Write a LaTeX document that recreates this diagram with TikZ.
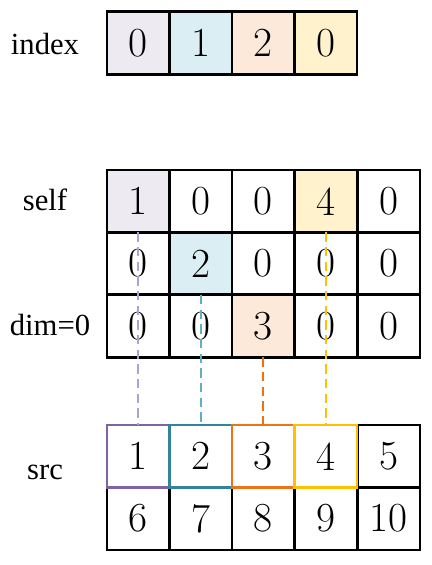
\documentclass[tikz,border=0pt]{standalone}
\usepackage{fontspec}
\newfontfamily\labelfont{Liberation Serif}
\usetikzlibrary{positioning}

\definecolor{purpleFill}{HTML}{EDEAF2}
\definecolor{tealFill}{HTML}{DAEEF3}
\definecolor{orangeFill}{HTML}{FDE9D9}
\definecolor{goldFill}{HTML}{FFF2CC}
\definecolor{purpleEdge}{HTML}{8064A2}
\definecolor{tealEdge}{HTML}{31849B}
\definecolor{orangeEdge}{HTML}{EB7318}
\definecolor{goldEdge}{HTML}{FFC000}
\definecolor{linkPurple}{HTML}{B0A2CC}
\definecolor{linkTeal}{HTML}{62AEC4}
\definecolor{linkOrange}{RGB}{240,112,16}
\definecolor{linkGold}{HTML}{FFC000}

\begin{document}
\begin{tikzpicture}[x=0.75pt, y=-0.75pt,
    cell/.style={draw=black, line width=1.9pt, minimum size=46.9pt, inner sep=0pt, outer sep=0pt,
      font=\fontsize{31}{31}\selectfont},
    tag/.style={inner sep=0pt, font=\labelfont\fontsize{23}{23}\selectfont},
    link/.style={line width=1.4pt, dash pattern=on 7pt off 4pt}]
      \useasboundingbox (0,0) rectangle (432,565);
      % Width of one cell
      \def\cw{62.6}
      % Height of one cell
      \def\ch{62.4}
      % Left edge of all arrays
      \def\xzero{106.8}
      % Index array
      \foreach \v/\f [count=\i] in {0/purpleFill, 1/tealFill, 2/orangeFill, 0/goldFill} {
        \node[cell, fill=\f] (idx\i) at ({\xzero+(\i-0.5)*\cw}, 43) {\v};
      }
      % Self array (3 x 5)
      \foreach \row [count=\r] in {{1/purpleFill,0/white,0/white,4/goldFill,0/white},
                                   {0/white,2/tealFill,0/white,0/white,0/white},
                                   {0/white,0/white,3/orangeFill,0/white,0/white}} {
        \foreach \v/\f [count=\c] in \row {
          \node[cell, fill=\f] (self-\r-\c) at ({\xzero+(\c-0.5)*\cw}, {170+(\r-0.5)*\ch}) {\v};
        }
      }
      % Src array (2 x 5)
      \foreach \row [count=\r] in {{1,2,3,4,5}, {6,7,8,9,10}} {
        \foreach \v [count=\c] in \row {
          \node[cell, fill=white] (src-\r-\c) at ({\xzero+(\c-0.5)*\cw}, {425+(\r-0.5)*\ch}) {\v};
        }
      }
      % Coloured frames on the used src entries
      \foreach \c/\col in {1/purpleEdge, 2/tealEdge, 3/orangeEdge, 4/goldEdge} {
        \draw[\col, line width=1.9pt] (src-1-\c.north west) rectangle (src-1-\c.south east);
      }
      % Dashed links from self to src
      \draw[link, linkOrange] (self-3-3.south) -- (src-1-3.north);
      \draw[link, linkPurple] (self-1-1.south) -- (src-1-1.north);
      \draw[link, linkTeal] (self-2-2.south) -- (src-1-2.north);
      \draw[link, linkGold] (self-1-4.south) -- (src-1-4.north);
      % Row labels
      \node[tag] (lblindex) at (45,44) {index};
      \node[tag] (lblself) at (45,200) {self};
      \node[tag] (lbldim) at (50,325) {dim=0};
      \node[tag] (lblsrc) at (45,472) {src};
\end{tikzpicture}
\end{document}
